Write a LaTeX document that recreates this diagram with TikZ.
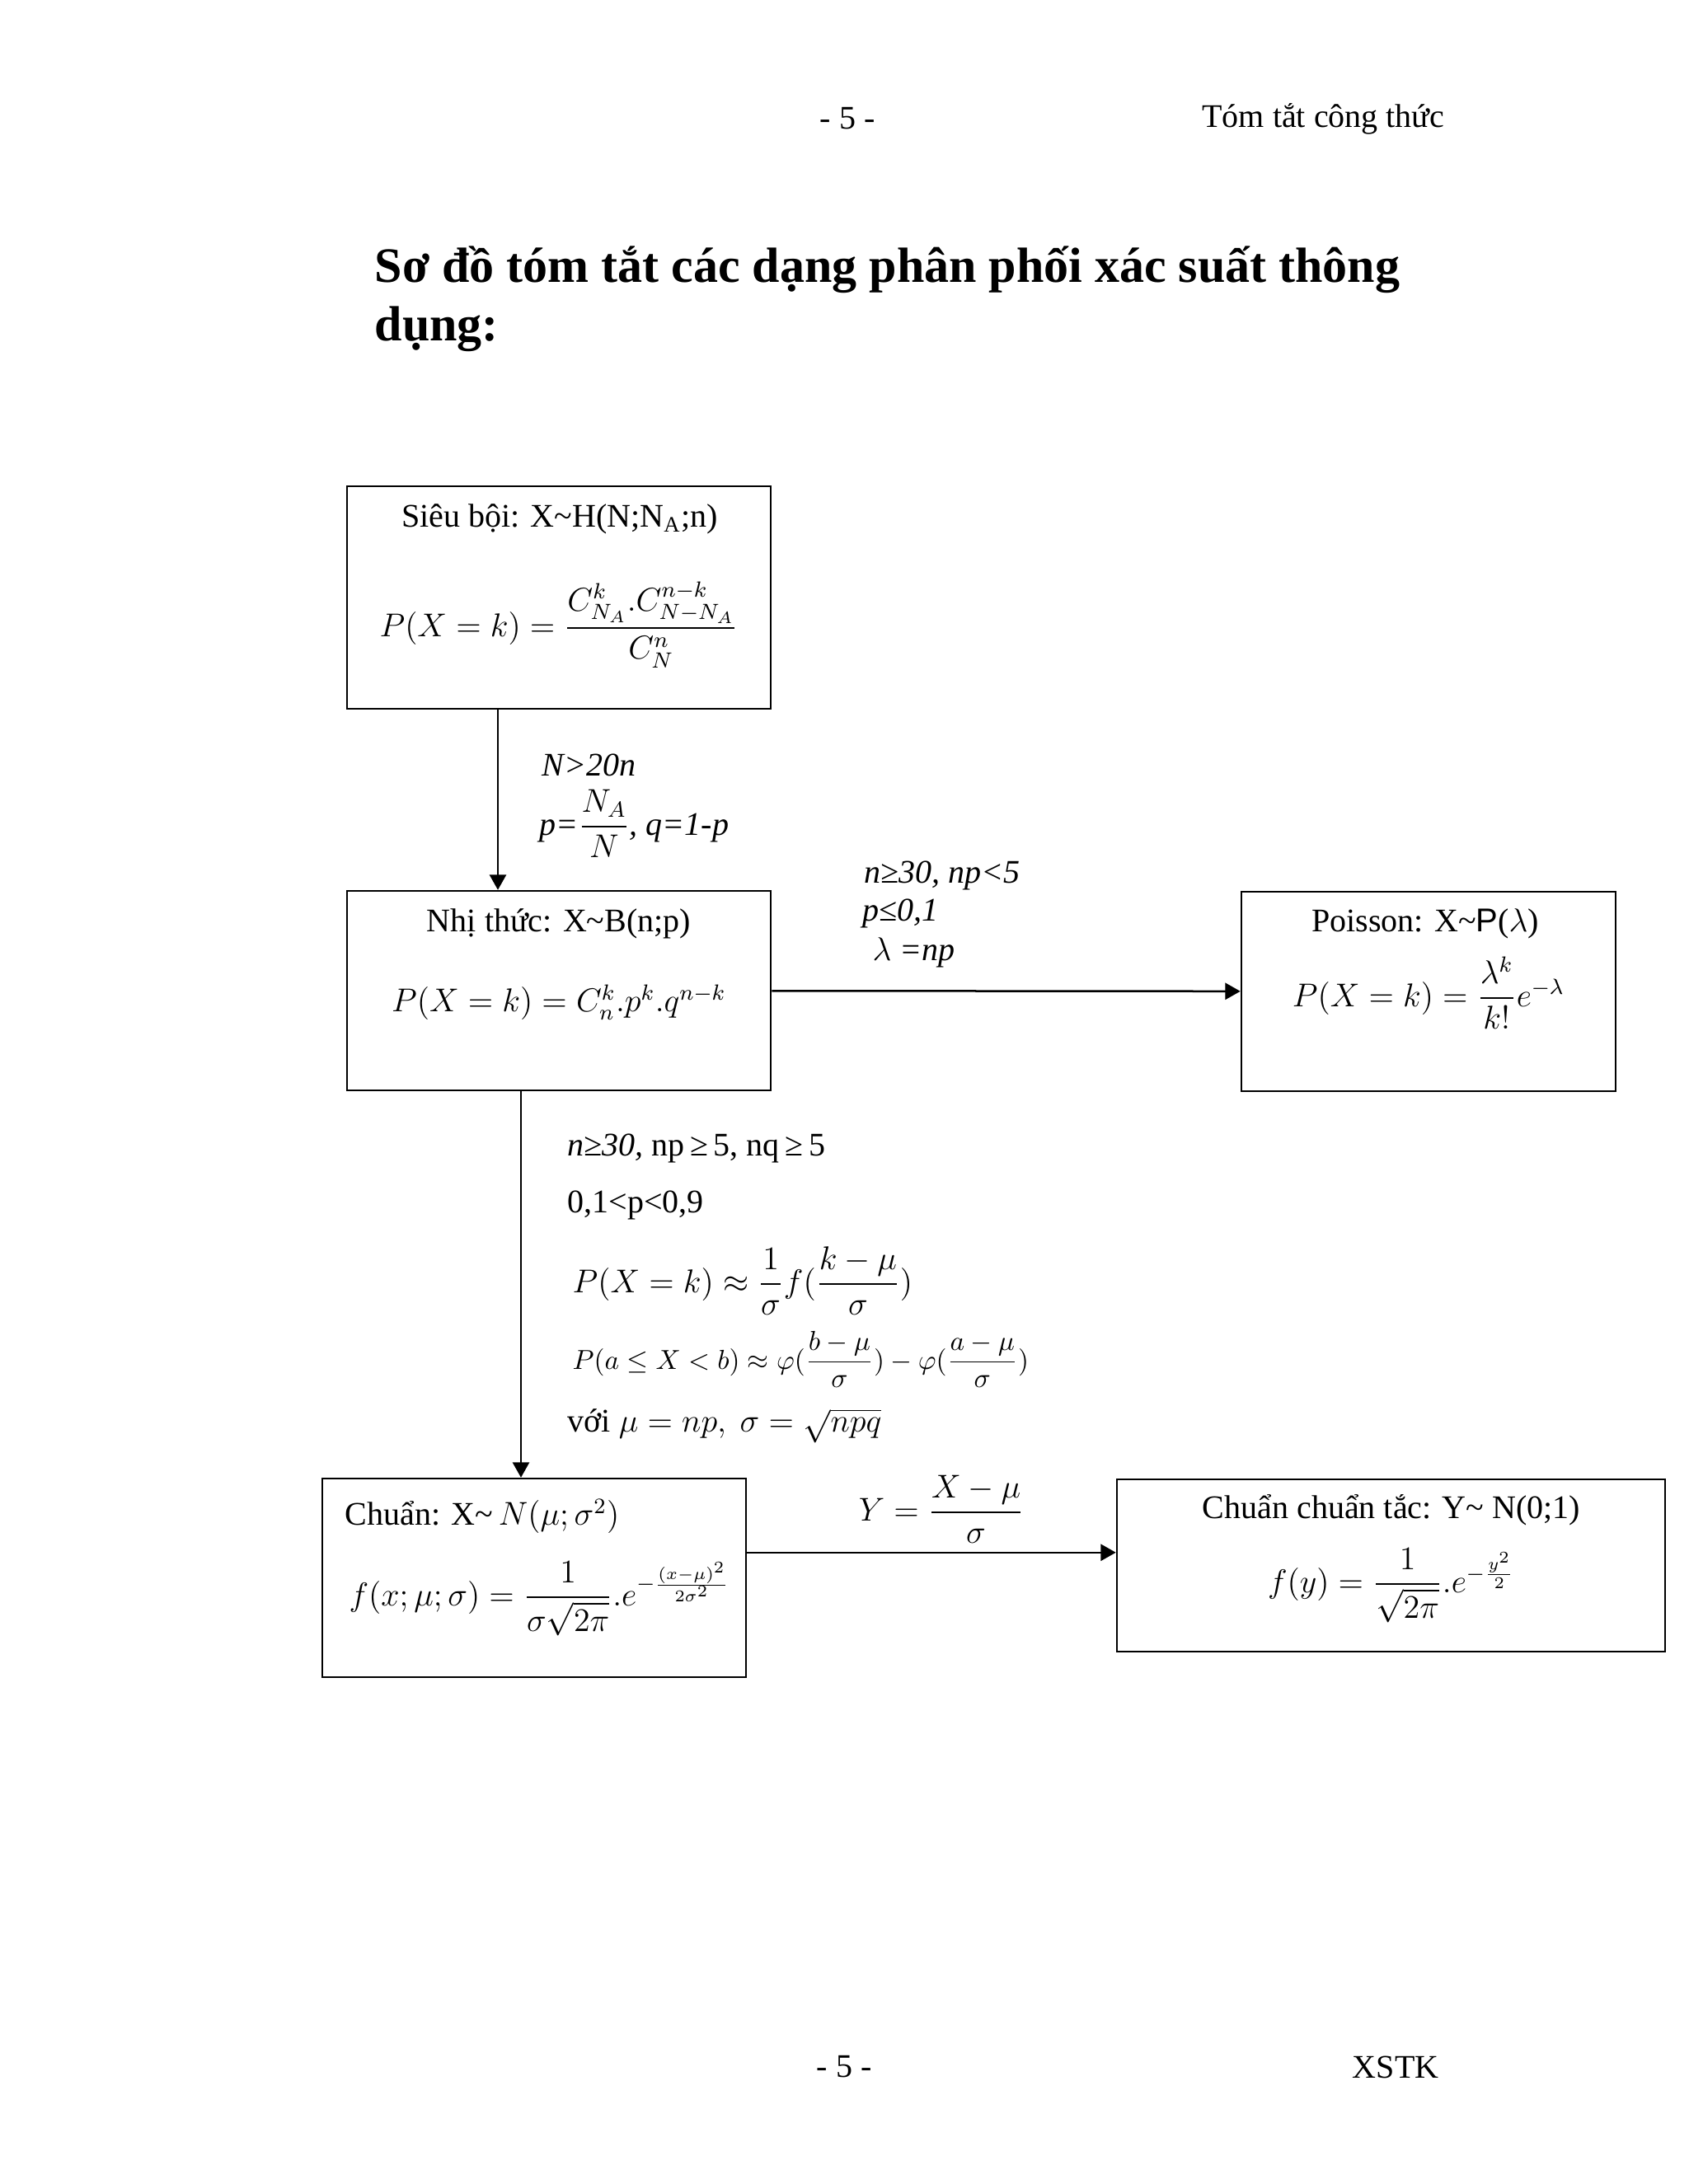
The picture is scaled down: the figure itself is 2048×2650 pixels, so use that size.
\documentclass[tikz,border=0pt]{standalone}
\usepackage{amsmath}
\usepackage{fontspec}
\setmainfont{Liberation Serif}
\setsansfont{Liberation Sans}
\usetikzlibrary{positioning,arrows.meta,calc,fit}
\tikzset{
  distbox/.style={draw, line width=0.75pt, inner sep=0pt},
  boxtext/.style={font=\fontsize{12}{14}\selectfont, inner sep=0pt},
  condtext/.style={font=\fontsize{12}{14}\selectfont\itshape, inner sep=0pt,
                   anchor=west},
  stdarrow/.style={-{Triangle[length=5.5pt, width=6pt]}, line width=0.75pt},
}

\begin{document}
\begin{tikzpicture}[x=0.0041504in, y=-0.0041504in]
\useasboundingbox (0,0) rectangle (2048,2650);

%% Header and title
\node[boxtext] (hdrpage) at (1028,144) {- 5 -};
\node[boxtext, anchor=east] (hdrname) at (1753,144) {Tóm tắt công thức};
\node[font=\fontsize{18}{21}\selectfont\bfseries, align=left, anchor=base west,
      inner sep=0pt] (title) at (454,413)
  {Sơ đồ tóm tắt các dạng phân phối xác suất thông\\dụng:};

%% Hypergeometric
\node[distbox, fit={(421,590)(935,860)}] (sieuboi) {};
\node[boxtext] (sieuboiname) at (679,630) {Siêu bội: X\textasciitilde H(N;N\textsubscript{A};n)};
\node[boxtext, anchor=base] (sieuboipmf) at (678,772)
  {$P(X=k)=\dfrac{C^k_{N_A}.C^{n-k}_{N-N_A}}{C^n_N}$};
\node[condtext] (cond1) at (657,928) {N>20n};
\node[condtext, anchor=base west] (cond2) at (654,1013) {p=$\dfrac{N_A}{N}$, q=1-p};

%% Binomial
\node[distbox, fit={(421,1081)(935,1323)}] (nhithuc) {};
\node[boxtext] (nhithucname) at (678,1121) {Nhị thức: X\textasciitilde B(n;p)};
\node[boxtext] (nhithucpmf) at (678,1216) {$P(X=k)=C^k_n.p^k.q^{n-k}$};

%% Poisson
\node[distbox, fit={(1506,1082)(1960,1324)}] (poisson) {};
\node[boxtext] (poissonname) at (1729,1121) {Poisson: X\textasciitilde\textsf{P}($\lambda$)};
\node[boxtext, anchor=base] (poissonpmf) at (1733,1221)
  {$P(X=k)=\dfrac{\lambda^k}{k!}e^{-\lambda}$};
\node[condtext] (cond3) at (1048,1062) {n≥30, np<5};
\node[condtext] (cond4) at (1046,1108) {p≤0,1};
\node[condtext] (cond5) at (1058,1156) {$\lambda$ =np};

%% Normal approximation
\node[boxtext, anchor=west] (cond6) at (688,1393) {\textit{n≥30,} np\,≥\,5, nq\,≥\,5};
\node[boxtext, anchor=west] (cond7) at (688,1462) {0,1<p<0,9};
\node[boxtext, anchor=base west] (cond8) at (694,1568)
  {$P(X=k)\approx\dfrac{1}{\sigma}f(\dfrac{k-\mu}{\sigma})$};
\node[boxtext, anchor=base west, font=\fontsize{10}{12}\selectfont] (cond9) at (694,1661)
  {$P(a\le X<b)\approx\varphi(\dfrac{b-\mu}{\sigma})-\varphi(\dfrac{a-\mu}{\sigma})$};
\node[boxtext, anchor=west] (cond10) at (688,1730) {với $\mu=np,\ \sigma=\sqrt{npq}$};

%% Normal
\node[distbox, fit={(391,1794)(905,2035)}] (chuan) {};
\node[boxtext, anchor=west] (chuanname) at (418,1840) {Chuẩn: X\textasciitilde\,$N(\mu;\sigma^2)$};
\node[boxtext, anchor=base west] (chuanpdf) at (423,1948)
  {$f(x;\mu;\sigma)=\dfrac{1}{\sigma\sqrt{2\pi}}.e^{-\frac{(x-\mu)^2}{2\sigma^2}}$};
\node[boxtext, anchor=base] (ytransform) at (1142,1845) {$Y=\dfrac{X-\mu}{\sigma}$};

%% Standard normal
\node[distbox, fit={(1355,1795)(2020,2004)}] (chuanct) {};
\node[boxtext] (chuanctname) at (1688,1832) {Chuẩn chuẩn tắc: Y\textasciitilde\ N(0;1)};
\node[boxtext, anchor=base] (chuanctpdf) at (1688,1932)
  {$f(y)=\dfrac{1}{\sqrt{2\pi}}.e^{-\frac{y^2}{2}}$};

%% Footer
\node[boxtext] (ftrpage) at (1024,2508) {- 5 -};
\node[boxtext, anchor=east] (ftrname) at (1746,2508) {XSTK};

%% Arrows
\draw[stdarrow] ($(sieuboi.south)+(-74,0)$) coordinate (a1) -- (a1 |- nhithuc.north);
\draw[stdarrow] (nhithuc) -- (poisson);
\draw[stdarrow] ($(nhithuc.south)+(-46,0)$) coordinate (a2) -- (a2 |- chuan.north);
\draw[stdarrow] ($(chuan.north east)+(0,91)$) coordinate (a3) -- (a3 -| chuanct.west);
\end{tikzpicture}
\end{document}
